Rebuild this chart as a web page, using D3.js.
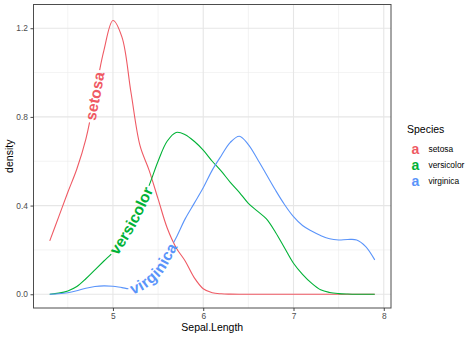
<!DOCTYPE html>
<html>
<head>
<meta charset="utf-8">
<script src="https://cdn.jsdelivr.net/npm/d3@7"></script>
<style>
  html, body { margin: 0; padding: 0; background: #ffffff; }
  svg { display: block; font-family: "Liberation Sans", Arial, Helvetica, sans-serif; }
</style>
</head>
<body>
<svg id="chart" width="474" height="338"></svg>
<script>
// Kernel density of iris sepal length, one curve per species
const sepalLength = [4.3, 4.4, 4.5, 4.6, 4.7, 4.8, 4.9, 5.0, 5.1, 5.2, 5.3, 5.4, 5.5, 5.6, 5.7, 5.8, 5.9,
  6.0, 6.1, 6.2, 6.3, 6.4, 6.5, 6.6, 6.7, 6.8, 6.9, 7.0, 7.1, 7.2, 7.3, 7.4, 7.5, 7.6, 7.7, 7.8, 7.9];

const setosa = [0.241, 0.35, 0.46, 0.565, 0.70, 0.90, 1.10, 1.235, 1.16, 0.91, 0.67, 0.56, 0.43, 0.30, 0.21,
  0.15, 0.075, 0.025, 0.007, 0.002, 0.0005, 0, 0, 0, 0, 0, 0, 0, 0, 0, 0, 0, 0, 0, 0, 0, 0];

const versicolor = [0.0, 0.005, 0.015, 0.035, 0.07, 0.11, 0.15, 0.19, 0.25, 0.32, 0.40, 0.49, 0.60, 0.69, 0.73,
  0.72, 0.69, 0.65, 0.60, 0.555, 0.505, 0.46, 0.41, 0.375, 0.34, 0.28, 0.21, 0.14, 0.09, 0.05, 0.02, 0.008,
  0.003, 0.001, 0, 0, 0];

const virginica = [0.0, 0.002, 0.007, 0.016, 0.027, 0.035, 0.038, 0.036, 0.03, 0.025, 0.04, 0.07, 0.11, 0.18,
  0.255, 0.34, 0.41, 0.48, 0.56, 0.625, 0.685, 0.713, 0.675, 0.61, 0.54, 0.47, 0.405, 0.35, 0.31, 0.285, 0.265,
  0.25, 0.245, 0.247, 0.245, 0.215, 0.155];

const species = ["setosa", "versicolor", "virginica"];
const densities = [setosa, versicolor, virginica];
const colours = ["#EF5A64", "#00B236", "#5A94FA"];

const xTicks = [5, 6, 7, 8];
const xMinor = [4.5, 5.5, 6.5, 7.5];
const yTicks = [0, 0.4, 0.8, 1.2];
const yMinor = [0.2, 0.6, 1.0];
const xLimits = [4.12, 8.08];
const yLimits = [-0.062, 1.307];

// How far along each curve its label is centred (fraction of the curve length)
const labelHjust = [0.22, 0.236, 0.242];

const svg = d3.select("#chart");
const panel = { left: 33.5, right: 391, top: 4.5, bottom: 308 };

const x = d3.scaleLinear().domain(xLimits).range([panel.left, panel.right]);
const y = d3.scaleLinear().domain(yLimits).range([panel.bottom, panel.top]);

// panel background
svg.append("rect")
  .attr("x", panel.left).attr("y", panel.top)
  .attr("width", panel.right - panel.left).attr("height", panel.bottom - panel.top)
  .attr("fill", "#ffffff");

const grid = svg.append("g");
grid.selectAll(".xminor").data(xMinor).join("line")
  .attr("x1", d => x(d)).attr("x2", d => x(d))
  .attr("y1", panel.top).attr("y2", panel.bottom)
  .attr("stroke", "#ebebeb").attr("stroke-width", 0.6);
grid.selectAll(".yminor").data(yMinor).join("line")
  .attr("y1", d => y(d)).attr("y2", d => y(d))
  .attr("x1", panel.left).attr("x2", panel.right)
  .attr("stroke", "#ebebeb").attr("stroke-width", 0.6);
grid.selectAll(".xmajor").data(xTicks).join("line")
  .attr("x1", d => x(d)).attr("x2", d => x(d))
  .attr("y1", panel.top).attr("y2", panel.bottom)
  .attr("stroke", "#e6e6e6").attr("stroke-width", 1.1);
grid.selectAll(".ymajor").data(yTicks).join("line")
  .attr("y1", d => y(d)).attr("y2", d => y(d))
  .attr("x1", panel.left).attr("x2", panel.right)
  .attr("stroke", "#e6e6e6").attr("stroke-width", 1.1);

// density curves with text following the path
const line = d3.line()
  .x((d, i) => x(sepalLength[i]))
  .y(d => y(d))
  .curve(d3.curveCatmullRom.alpha(0.5));

const curves = svg.append("g");
species.forEach((name, k) => {
  const id = "curve-" + name;
  const path = curves.append("path")
    .attr("id", id)
    .attr("d", line(densities[k]))
    .attr("fill", "none")
    .attr("stroke", colours[k])
    .attr("stroke-width", 1.1);

  const total = path.node().getTotalLength();
  const at = total * labelHjust[k];
  const text = curves.append("text")
    .attr("fill", colours[k])
    .attr("font-size", 15.5)
    .attr("font-weight", "bold")
    .attr("text-anchor", "middle")
    .attr("dy", "0.36em");
  const tp = text.append("textPath")
    .attr("href", "#" + id)
    .attr("startOffset", at)
    .text(name);

  // break the line where the label sits
  const len = tp.node().getComputedTextLength();
  const pad = 2;
  path.attr("stroke-dasharray", `${at - len / 2 - pad},${len + 2 * pad},${total}`);
});

// panel border
svg.append("rect")
  .attr("x", panel.left).attr("y", panel.top)
  .attr("width", panel.right - panel.left).attr("height", panel.bottom - panel.top)
  .attr("fill", "none").attr("stroke", "#4d4d4d").attr("stroke-width", 1);

// axes
const xAxis = svg.append("g")
  .attr("transform", `translate(0,${panel.bottom})`)
  .call(d3.axisBottom(x).tickValues(xTicks).tickFormat(d3.format("d")).tickSize(3).tickPadding(2.5));
const yAxis = svg.append("g")
  .attr("transform", `translate(${panel.left},0)`)
  .call(d3.axisLeft(y).tickValues(yTicks).tickFormat(d3.format(".1f")).tickSize(3).tickPadding(2.5));

[xAxis, yAxis].forEach(a => {
  a.select(".domain").remove();
  a.selectAll(".tick line").attr("stroke", "#333333").attr("stroke-width", 0.9);
  a.selectAll(".tick text")
    .attr("fill", "#4d4d4d")
    .attr("font-size", 8.4)
    .attr("font-family", "Liberation Sans, Arial, sans-serif");
});

// axis titles
svg.append("text")
  .attr("x", (panel.left + panel.right) / 2)
  .attr("y", 330.5)
  .attr("text-anchor", "middle")
  .attr("font-size", 10.5)
  .attr("fill", "#000000")
  .text("Sepal.Length");

svg.append("text")
  .attr("transform", `translate(12.5,${(panel.top + panel.bottom) / 2}) rotate(-90)`)
  .attr("text-anchor", "middle")
  .attr("font-size", 10.5)
  .attr("fill", "#000000")
  .text("density");

// legend
const legend = svg.append("g").attr("transform", "translate(407,0)");
legend.append("text")
  .attr("x", 0).attr("y", 133)
  .attr("font-size", 10.5)
  .attr("fill", "#000000")
  .text("Species");

const rows = legend.selectAll(".row").data(species).join("g")
  .attr("transform", (d, i) => `translate(0,${149 + i * 16})`);
rows.append("text")
  .attr("x", 8.3).attr("y", 0)
  .attr("dy", "0.33em")
  .attr("text-anchor", "middle")
  .attr("font-size", 14)
  .attr("font-weight", "bold")
  .attr("fill", (d, i) => colours[i])
  .text("a");
rows.append("text")
  .attr("x", 21.5).attr("y", 0)
  .attr("dy", "0.35em")
  .attr("font-size", 8.4)
  .attr("fill", "#000000")
  .text(d => d);
</script>
</body>
</html>
